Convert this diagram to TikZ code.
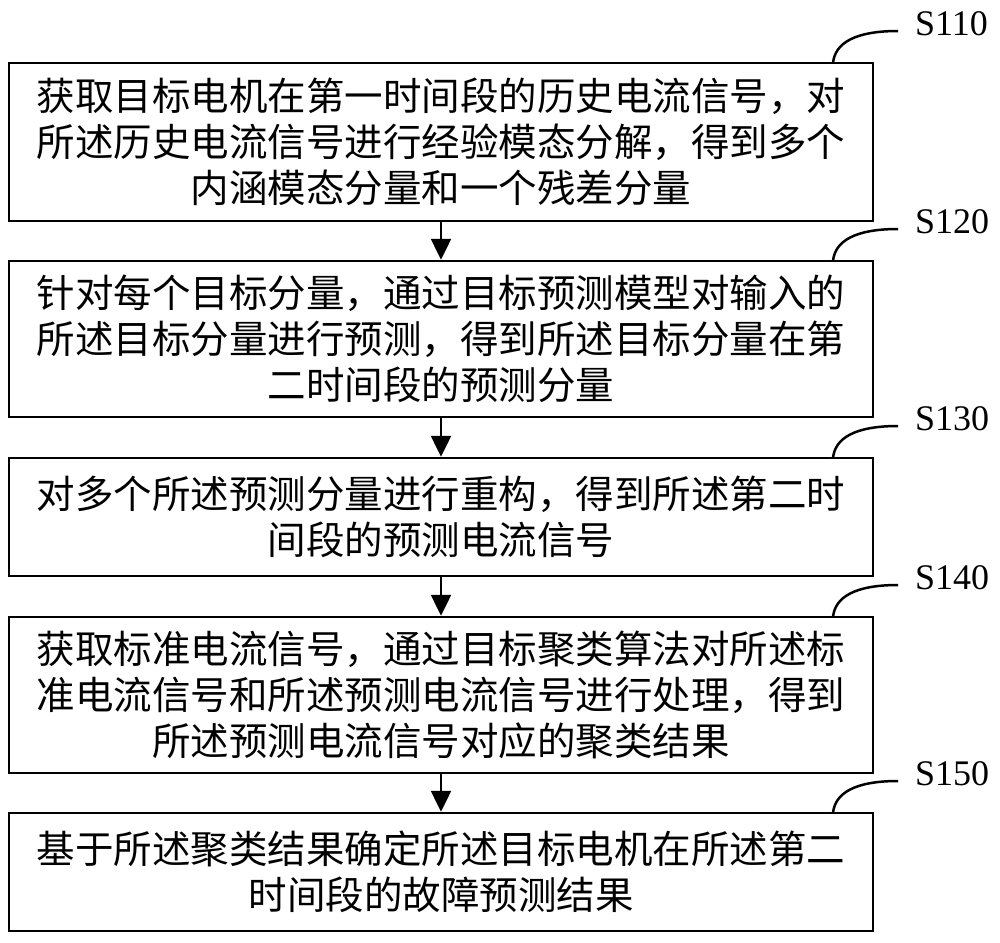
\documentclass[tikz,border=0pt]{standalone}
\usepackage{fontspec}
\setmainfont{Liberation Serif}
\newfontfamily\cjk{Noto Sans CJK SC}
\usetikzlibrary{arrows.meta}
\begin{document}
\begin{tikzpicture}[x=1pt,y=-1pt,
  box/.style={draw=black,line width=2.5pt,minimum width=864pt,inner sep=0pt,
    text width=830pt,align=center,font=\cjk\fontsize{38.5}{46}\selectfont},
  arr/.style={line width=2.5pt,-{Triangle[width=20pt,length=21pt]}},
  lead/.style={line width=2.5pt},
  lab/.style={inner sep=0pt,anchor=west,font=\fontsize{36}{40}\selectfont}]
\useasboundingbox (0,0) rectangle (1000,942);
\node[box,minimum height=158pt] (b1) at (441,142) {获取目标电机在第一时间段的历史电流信号，对\\所述历史电流信号进行经验模态分解，得到多个\\内涵模态分量和一个残差分量};
\node[box,minimum height=156pt] (b2) at (441,339) {针对每个目标分量，通过目标预测模型对输入的\\所述目标分量进行预测，得到所述目标分量在第\\二时间段的预测分量};
\node[box,minimum height=118pt] (b3) at (441,517) {对多个所述预测分量进行重构，得到所述第二时\\间段的预测电流信号};
\node[box,minimum height=156pt] (b4) at (441,695) {获取标准电流信号，通过目标聚类算法对所述标\\准电流信号和所述预测电流信号进行处理，得到\\所述预测电流信号对应的聚类结果};
\node[box,minimum height=118pt] (b5) at (441,872) {基于所述聚类结果确定所述目标电机在所述第二\\时间段的故障预测结果};
\draw[arr] (b1.south) -- (b2.north);
\draw[arr] (b2.south) -- (b3.north);
\draw[arr] (b3.south) -- (b4.north);
\draw[arr] (b4.south) -- (b5.north);
\foreach \b/\t/\s in {b1/63/S110,b2/261/S120,b3/458/S130,b4/617/S140,b5/813/S150}{
  \coordinate (\b s) at (833,\t);
  \coordinate (\b e) at (898,\t-32);
  \node[lab] (\b l) at (915,\t-39) {\s};
  \draw[lead] (\b s) .. controls (835,\t-20) and (855,\t-32) .. (\b e);
}
\end{tikzpicture}
\end{document}
